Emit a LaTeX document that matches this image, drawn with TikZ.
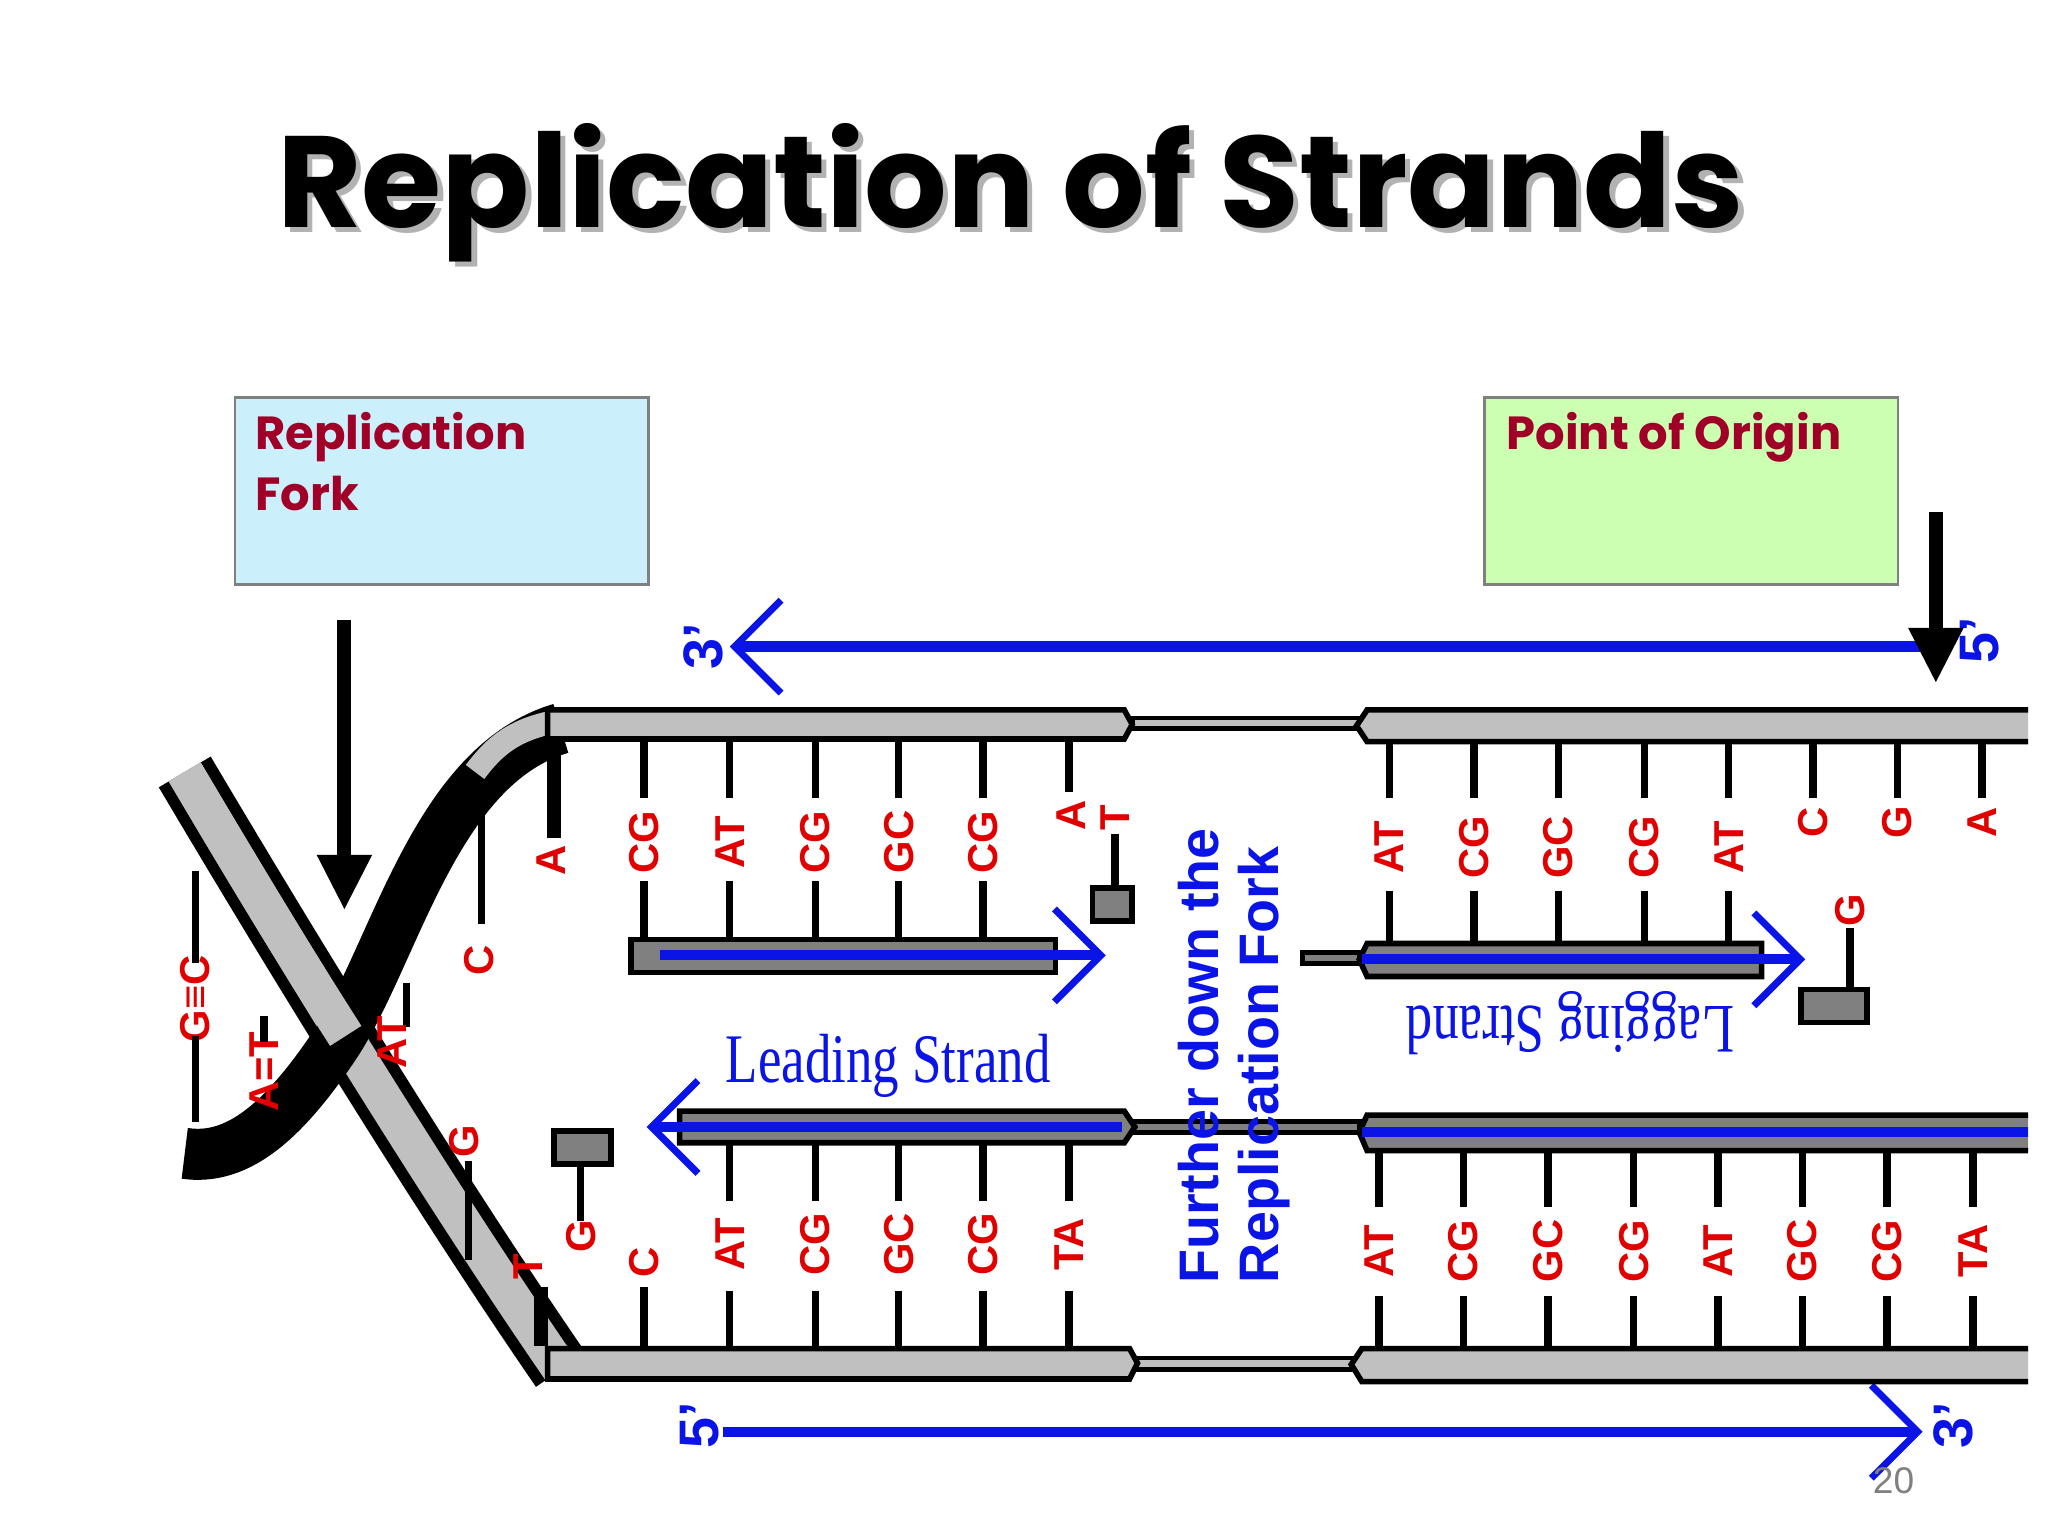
\documentclass[tikz,border=0pt]{standalone}
\usepackage{fontspec}
\setmainfont{Liberation Sans}
\newfontfamily\ttlfont{Poppins}
\newfontfamily\serf{Liberation Serif}
\usetikzlibrary{arrows.meta}
\definecolor{dred}{HTML}{A00028}
\definecolor{lred}{HTML}{E00000}
\definecolor{bblue}{HTML}{0A14E6}
\definecolor{barc}{HTML}{C0C0C0}
\definecolor{dbar}{HTML}{808080}
\begin{document}
\begin{tikzpicture}[x=0.01cm,y=-0.01cm,
  base/.style={text=lred,font=\bfseries\fontsize{9}{9}\selectfont,rotate=90,inner sep=0pt},
  rung/.style={line width=1.6pt},
  bb/.style={fill=barc,draw=black,line width=1.2pt},
  nb/.style={fill=dbar,draw=black,line width=1.2pt},
  blu/.style={draw=bblue,line width=2.2pt},
  barr/.style={-{Straight Barb[length=10pt,width=20pt,line width=1.5pt]},draw=bblue,line width=2.2pt},
  end/.style={text=bblue,font=\bfseries\fontsize{12}{12}\selectfont,rotate=90,inner sep=0pt},
  blk/.style={-{Triangle[length=12pt,width=11pt]},line width=3pt}]
\useasboundingbox (0,0) rectangle (1552,1164);
% title
\node[font=\ttlfont\bfseries\fontsize{28}{32}\selectfont,text=gray!60] (tsh) at (770,150) {Replication of Strands};
\node[font=\ttlfont\bfseries\fontsize{28}{32}\selectfont] (title) at (766,146) {Replication of Strands};
% boxes
\node[draw=gray,fill=cyan!20,minimum width=3.13cm,minimum height=1.42cm,anchor=north west,line width=0.6pt] (bf) at (177,300) {};
\node[anchor=north west,align=left,text=dred,font=\ttlfont\bfseries\fontsize{10}{13}\selectfont,inner sep=0pt] (bft) at (193,312) {Replication\\Fork};
\node[draw=gray,fill=lime!45!green!30!white,minimum width=3.13cm,minimum height=1.42cm,anchor=north west,line width=0.6pt] (bo) at (1124,300) {};
\node[anchor=north west,text=dred,font=\ttlfont\bfseries\fontsize{10}{13}\selectfont,inner sep=0pt] (bot) at (1141,312) {Point of Origin};
% black arrows
\coordinate (a1) at (261,470); \coordinate (a2) at (261,690);
\draw[blk] (a1) -- (a2);
\coordinate (a3) at (1467,388); \coordinate (a4) at (1467,518);
% top blue
\node[end] (t3) at (533,490) {3'};
\node[end] (t5) at (1500,485) {5'};
\coordinate (tb1) at (1465,490); \coordinate (tb2) at (553,490);
\draw[barr] (tb1) -- (tb2);
\draw[blk] (a3) -- (a4);
\node[end] (b5) at (530,1080) {5'};
\node[end] (b3) at (1480,1080) {3'};
\coordinate (bb1) at (548,1085); \coordinate (bb2) at (1457,1085);
\draw[barr] (bb1) -- (bb2);
% left helix
\draw[line width=13pt,black] (140,585) .. controls (220,720) and (330,900) .. (425,1038);
\draw[line width=8pt,barc] (140,585) .. controls (220,720) and (330,900) .. (425,1038);
\draw[line width=11pt,black] (425,552) .. controls (330,580) and (300,720) .. (255,790) .. controls (215,850) and (180,880) .. (140,874);
\draw[line width=5pt,barc] (425,546) .. controls (390,552) and (375,565) .. (360,585);
\draw[line width=8pt,barc] (140,585) .. controls (190,670) and (230,735) .. (262,785);
% backbones
\draw[fill=barc,draw=black,line width=1pt] (858,544) rectangle (1030,552);
\draw[bb] (415,538) -- (852,538) -- (858,549) -- (852,560) -- (415,560) -- cycle;
\draw[bb] (1537,538) -- (1036,538) -- (1028,550) -- (1036,562) -- (1537,562);
\draw[fill=barc,draw=black,line width=1pt] (860,1029) rectangle (1028,1038);
\draw[bb] (415,1022) -- (856,1022) -- (862,1033) -- (856,1045) -- (415,1045) -- cycle;
\draw[bb] (1537,1022) -- (1032,1022) -- (1024,1034) -- (1032,1047) -- (1537,1047);
% top-left rungs
\foreach \x/\t in {488/CG,553/AT,618/CG,681/GC,745/CG}{
  \draw[rung] (\x,560) -- (\x,605); \node[base] at (\x,638) {\t}; \draw[rung] (\x,668) -- (\x,712);}
\draw[rung] (810,560) -- (810,600); \node[base] at (812,618) {A};
\node[base] at (845,620) {T}; \draw[rung] (845,632) -- (845,673);
\draw[nb] (828,673) rectangle (858,698);
\draw[nb] (478,712) rectangle (800,737);
\coordinate (l1) at (500,724); \coordinate (l2) at (838,724);
\draw[barr] (l1) -- (l2);
% bottom-left
\draw[fill=dbar,draw=black,line width=1pt] (858,850) rectangle (1030,858);
\draw[nb] (515,842) -- (852,842) -- (860,854) -- (852,866) -- (515,866) -- cycle;
\coordinate (m1) at (850,854); \coordinate (m2) at (490,854);
\draw[barr] (m1) -- (m2);
\foreach \x/\t in {553/AT,618/CG,681/GC,745/CG,810/TA}{
  \draw[rung] (\x,866) -- (\x,910); \node[base] at (\x,943) {\t}; \draw[rung] (\x,978) -- (\x,1022);}
\node[base] at (488,957) {C}; \draw[rung] (488,975) -- (488,1022);
\draw[nb] (420,857) rectangle (463,882);
\draw[rung] (440,882) -- (440,925); \node[base] at (440,937) {G};
\node[text=bblue,font=\serf\fontsize{15}{15}\selectfont,xscale=0.76] (lead) at (673,808) {Leading Strand};
% right top
\foreach \x/\t in {1053/AT,1117/CG,1181/GC,1246/CG,1310/AT}{
  \draw[rung] (\x,562) -- (\x,605); \node[base] at (\x,642) {\t}; \draw[rung] (\x,675) -- (\x,715);}
\foreach \x/\t in {1374/C,1438/G,1502/A}{
  \draw[rung] (\x,562) -- (\x,605); \node[base] at (\x,623) {\t};}
\draw[fill=dbar,draw=black,line width=1pt] (987,722) rectangle (1030,730);
\draw[nb] (1335,715) -- (1036,715) -- (1030,727) -- (1036,740) -- (1335,740) -- cycle;
\coordinate (r1) at (1032,727); \coordinate (r2) at (1368,727);
\draw[barr] (r1) -- (r2);
\node[base] at (1402,690) {G}; \draw[rung] (1402,703) -- (1402,750);
\draw[nb] (1365,750) rectangle (1415,775);
\node[font=\serf\fontsize{15}{15}\selectfont,text=bblue,rotate=180,xscale=0.76] (lag) at (1190,775) {Lagging Strand};
% right bottom
\draw[nb] (1537,845) -- (1036,845) -- (1030,858) -- (1036,872) -- (1537,872);
\coordinate (s1) at (1032,858); \coordinate (s2) at (1537,858);
\draw[blu] (s1) -- (s2);
\foreach \x/\t in {1045/AT,1109/CG,1173/GC,1238/CG,1302/AT,1366/GC,1430/CG,1495/TA}{
  \draw[rung] (\x,872) -- (\x,915); \node[base] at (\x,948) {\t}; \draw[rung] (\x,982) -- (\x,1022);}
% vertical text
\node[rotate=90,align=left,text=bblue,font=\bfseries\fontsize{12}{13}\selectfont] (fd) at (935,800) {Further down the\\Replication Fork};
% left rungs/letters
\draw[rung,line width=3pt] (420,560) -- (420,635); \node[base] at (418,652) {A};
\draw[rung] (365,590) -- (365,700); \node[base] at (363,728) {C};
\draw[rung] (308,745) -- (308,778); \node[base] at (297,790) {AT};
\node[base] at (200,812) {A=T}; \draw[rung] (200,770) -- (200,790);
\node[base] at (148,757) {G≡C}; \draw[rung] (148,660) -- (148,730); \draw[rung] (148,785) -- (148,850);
\node[base] at (352,865) {G}; \draw[rung] (355,880) -- (355,955);
\node[base] at (400,960) {T}; \draw[rung,line width=3pt] (410,975) -- (410,1020);
% page number
\node[text=gray,font=\fontsize{8}{8}\selectfont] (pg) at (1435,1122) {20};
\end{tikzpicture}
\end{document}
